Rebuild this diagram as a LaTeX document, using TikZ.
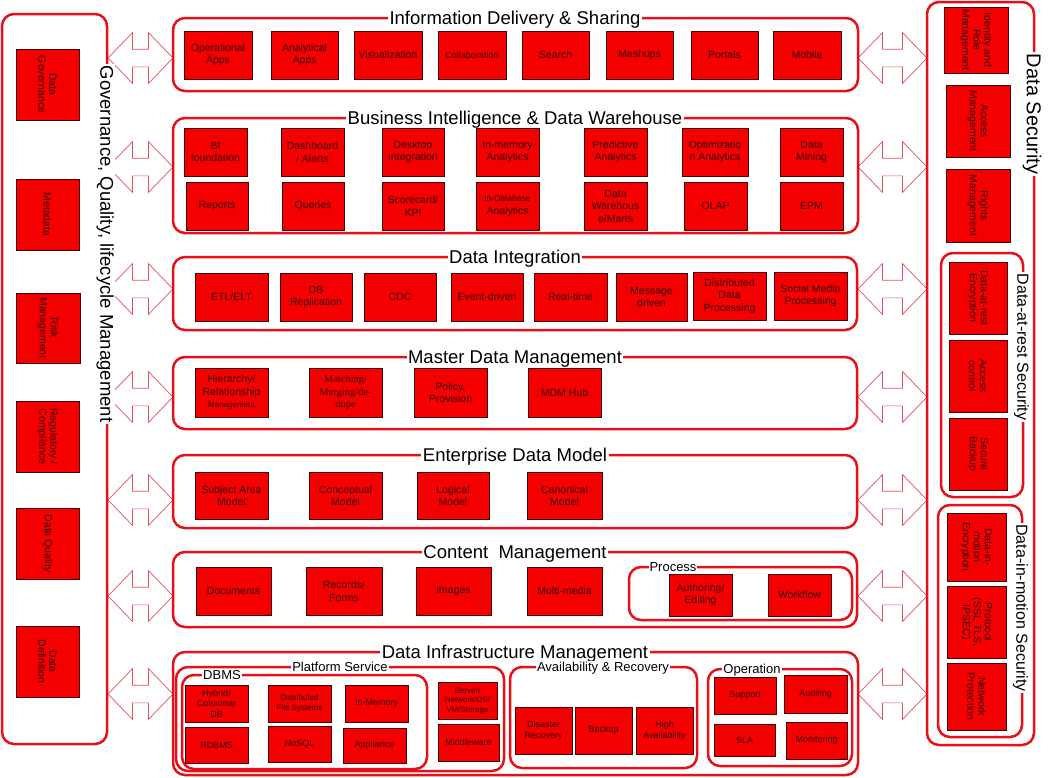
\documentclass[tikz,border=0pt]{standalone}
\usepackage{fontspec}
\setmainfont{Liberation Sans}
\newfontfamily\serifx{Liberation Serif}
\usetikzlibrary{shapes.arrows,fit}
\definecolor{pred}{RGB}{232,16,24}
\definecolor{bfill}{RGB}{245,0,0}
\definecolor{bdraw}{RGB}{70,0,0}
\definecolor{btext}{RGB}{55,0,0}
\definecolor{arr}{RGB}{225,80,95}
\tikzset{
  panel/.style={draw=pred, line width=2.5pt, rounded corners=12pt, inner sep=0pt},
  box/.style={draw=bdraw, line width=0.7pt, fill=bfill, text=btext, inner sep=1pt,
    align=center, font=\fontsize{10.5}{12.5}\selectfont},
  f9/.style={font=\fontsize{9}{10.5}\selectfont},
  f8/.style={font=\fontsize{8}{9.5}\selectfont},
  serif/.style={font=\serifx\fontsize{10.5}{12.5}\selectfont},
  vbox/.style={rotate=-90, font=\fontsize{10.5}{11}\selectfont},
  ttl/.style={font=\fontsize{18.5}{20}\selectfont, fill=white, inner sep=1.5pt, anchor=base, text=black},
  sttl/.style={font=\fontsize{13}{14}\selectfont, fill=white, inner sep=1pt, anchor=base, text=black},
  dbl/.style={double arrow, draw=arr, fill=white, line width=0.7pt,
    double arrow head extend=16.5pt, double arrow tip angle=92,
    inner sep=8.5pt, outer sep=0pt, minimum height=#1},
}
\newcommand\bx[7][]{\node[box,#1,minimum width=#5pt,minimum height=#6pt] (#2) at (#3,#4) {#7};}
\begin{document}
\begin{tikzpicture}[x=1pt,y=-1pt]
\fill[white] (0,0) rectangle (1048,777);
\useasboundingbox (0,0) rectangle (1048,777);

% ---- double arrows ----
\foreach \cy [count=\i] in {58,167,289,397,500,596,694}{
  \node[dbl=65pt] (aL\i) at (140.5,\cy) {};
  \node[dbl=69pt] (aR\i) at (892.5,\cy) {};
}

% ---- panels ----
\node[panel, fit={(2,14) (107,744)}] (pGov) {};
\node[panel, fit={(927,2) (1034,745)}] (pSec) {};
\node[panel, fit={(941,253) (1023,497)}] (pRest) {};
\node[panel, fit={(938,505) (1022,737)}] (pMot) {};
\node[panel, fit={(173,18) (858,91)}] (pID) {};
\node[panel, fit={(173,118) (858,233)}] (pBI) {};
\node[panel, fit={(173,257) (857,330)}] (pDI) {};
\node[panel, fit={(173,357) (857,429)}] (pMDM) {};
\node[panel, fit={(173,455) (857,528)}] (pEDM) {};
\node[panel, fit={(173,552) (857,627)}] (pCM) {};
\node[panel, fit={(629,567) (852,620)}] (pProc) {};
\node[panel, fit={(173,652) (858,775)}] (pDIM) {};
\node[panel, fit={(176,667) (504,771)}] (pPlat) {};
\node[panel, fit={(182,675) (427,769)}] (pDBMS) {};
\node[panel, fit={(510,667) (697,768)}] (pAR) {};
\node[panel, fit={(708,669) (852,766)}] (pOp) {};

% ---- titles ----
\node[ttl] (tID) at (515,24.6) {Information Delivery \& Sharing};
\node[ttl] (tBI) at (515,124.6) {Business Intelligence \& Data Warehouse};
\node[ttl] (tDI) at (515,263.6) {Data Integration};
\node[ttl] (tMDM) at (515,363.6) {Master Data Management};
\node[ttl] (tEDM) at (515,461.6) {Enterprise Data Model};
\node[ttl] (tCM) at (515,558.6) {Content\ \ Management};
\node[ttl] (tDIM) at (515,658.6) {Data Infrastructure Management};
\node[sttl] (tProc) at (673,571.7) {Process};
\node[sttl] (tPlat) at (340,671.7) {Platform Service};
\node[sttl] (tDBMS) at (222,679.7) {DBMS};
\node[sttl] (tAR) at (603,671.7) {Availability \& Recovery};
\node[sttl] (tOp) at (752,673.7) {Operation};
\node[ttl, rotate=-90] (tGov) at (100.4,244) {Governance, Quality, lifecycle Management};
\node[ttl, rotate=-90, font=\fontsize{20}{22}\selectfont] (tSec) at (1026.8,114) {Data Security};
\node[ttl, rotate=-90, font=\fontsize{16}{18}\selectfont] (tRest) at (1017.3,347) {Data-at-rest Security};
\node[ttl, rotate=-90, font=\fontsize{16}{18}\selectfont] (tMot) at (1016.3,608) {Data-in-motion Security};

% ---- Information Delivery ----
\bx{op}{218}{55}{68}{48}{Operational\\Apps}
\bx{an}{304.5}{55}{67}{48}{Analytical\\Apps}
\bx{vis}{388}{55}{68}{48}{Visualization}
\bx[f9]{col}{472}{55}{68}{48}{Collaboration}
\bx{sea}{555.5}{55}{67}{48}{Search}
\bx{mash}{639.5}{55}{67}{48}{Mashups}
\bx{por}{724.5}{55}{67}{48}{Portals}
\bx{mob}{807}{55}{68}{48}{Mobile}

% ---- BI ----
\bx{bif}{215.5}{152}{63}{48}{BI\\foundation}
\bx{dash}{312.5}{152}{63}{48}{Dashboard\\/ Alerts}
\bx{desk}{413}{152}{62}{48}{Desktop\\Integration}
\bx{inmem}{507.5}{152}{63}{48}{In-memory\\Analytics}
\bx{predi}{615.5}{152}{63}{48}{Predictive\\Analytics}
\bx{opt}{715}{152}{66}{48}{Optimizatio\\n Analytics}
\bx{dmin}{811.5}{152}{63}{48}{Data\\Mining}
\bx{rep}{217}{206}{62}{48}{Reports}
\bx{que}{313}{206}{62}{48}{Queries}
\bx{sc}{413}{206}{62}{48}{Scorecard/\\KPI}
\bx{indb}{507.5}{206}{63}{48}{{\fontsize{8.5}{10}\selectfont In-Database}\\Analytics}
\bx{dw}{615.5}{206}{63}{48}{Data\\Warehous\\e/Marts}
\bx{olap}{715.5}{206}{63}{48}{OLAP}
\bx{epm}{811.5}{206}{63}{48}{EPM}

% ---- Data Integration ----
\bx{etl}{231.5}{297}{73}{48}{ETL/ELT}
\bx{dbr}{316}{297}{72}{48}{DB\\Replication}
\bx{cdc}{400}{297}{72}{48}{CDC}
\bx{evd}{487}{297}{72}{48}{Event-driven}
\bx{rt}{570.5}{297}{73}{48}{Real-time}
\bx{msg}{651.5}{297}{71}{48}{Message\\driven}
\bx{ddp}{729.5}{296}{73}{48}{Distributed\\Data\\Processing}
\bx{smp}{810.5}{296}{73}{48}{Social Media\\Processing}

% ---- MDM ----
\bx{hier}{231.5}{392.5}{73}{49}{Hierarchy/\\Relationship\\{\fontsize{8}{9}\selectfont Management}}
\bx[serif]{match}{345.5}{392.5}{73}{49}{Matching/\\Merging/de-\\dupe}
\bx{pol}{450.5}{392.5}{73}{49}{Policy,\\Provision}
\bx{hub}{564.5}{392.5}{73}{49}{MDM Hub}

% ---- EDM ----
\bx{sam}{231.5}{495.5}{73}{47}{Subject Area\\Model}
\bx{con}{345.5}{495.5}{73}{47}{Conceptual\\Model}
\bx{log}{453}{495.5}{72}{47}{Logical\\Model}
\bx{can}{564.5}{495.5}{75}{47}{Canonical\\Model}

% ---- Content Management ----
\bx{doc}{233.5}{591}{75}{48}{Documents}
\bx{rec}{344}{591}{76}{48}{Records/\\Forms}
\bx{img}{453.5}{591}{75}{48}{Images}
\bx{mm}{564.5}{591}{75}{48}{Multi-media}
\bx{auth}{700.5}{595}{63}{42}{Authoring/\\Editing}
\bx{wf}{799.5}{595}{63}{42}{Workflow}

% ---- Data Infrastructure ----
\bx[f9]{hyb}{216.5}{703.5}{63}{37}{Hybrid/\\Columnar\\DB}
\bx[f8]{dfs}{299.5}{703.5}{63}{37}{Distributed\\File Systems}
\bx[f9]{inm}{376.5}{703.5}{63}{37}{In-Memory}
\bx[f9]{rdb}{216.5}{745}{63}{36}{RDBMS}
\bx[f9]{nos}{299.5}{744}{63}{36}{NoSQL}
\bx[f9]{appl}{374.5}{745.5}{63}{35}{Appliance}
\bx[f8]{srv}{467.5}{700.5}{59}{37}{Server/\\Network/OS/\\VM/Storage}
\bx[f9]{mid}{468.5}{742.5}{61}{37}{Middleware}
\bx[f9]{dr}{543.5}{730.5}{57}{47}{Disaster\\Recovery}
\bx[f9]{bak}{603.5}{730.5}{57}{47}{Backup}
\bx[f9]{ha}{664.5}{730.5}{57}{47}{High\\Availability}
\bx[f9]{sup}{745}{695.5}{62}{37}{Support}
\bx[f9]{aud}{815.5}{694}{63}{38}{Auditing}
\bx[f9]{sla}{744.5}{740}{61}{32}{SLA}
\bx[f9]{mon}{816.5}{740.5}{61}{37}{Monitoring}

% ---- Governance (vertical) ----
\bx[vbox]{dg}{47.5}{84.5}{71}{63}{Data\\Governance}
\bx[vbox]{meta}{47.5}{214.5}{71}{63}{Metadata}
\bx[vbox]{risk}{48}{328}{70}{64}{Risk\\Management}
\bx[vbox]{regc}{47.5}{436.5}{71}{63}{Regulatory /\\Compliance}
\bx[vbox]{dq}{47.5}{543.5}{71}{63}{Data Quality}
\bx[vbox]{ddef}{47.5}{661.5}{71}{63}{Data\\Definition}

% ---- Security (vertical) ----
\bx[vbox]{irm}{976}{40}{66}{64}{Identity and\\Role\\Management}
\bx[vbox]{am}{978}{121}{72}{64}{Access\\Management}
\bx[vbox]{rm}{978}{205.5}{73}{64}{Rights\\Management}
\bx[vbox]{dare}{978}{298}{72}{58}{Data-at-rest\\Encryption}
\bx[vbox]{acc}{978}{376}{72}{58}{Access\\control}
\bx[vbox]{sbk}{978}{454}{72}{58}{Secure\\Backup}
\bx[vbox]{dime}{976.5}{547}{68}{59}{Data-in-\\motion\\Encryption}
\bx[vbox]{prot}{976.5}{622}{72}{59}{Protocol\\(SSL TLS,\\IPSEC)}
\bx[vbox]{netp}{976.5}{696.5}{67}{59}{Network\\Protection}
\end{tikzpicture}
\end{document}
